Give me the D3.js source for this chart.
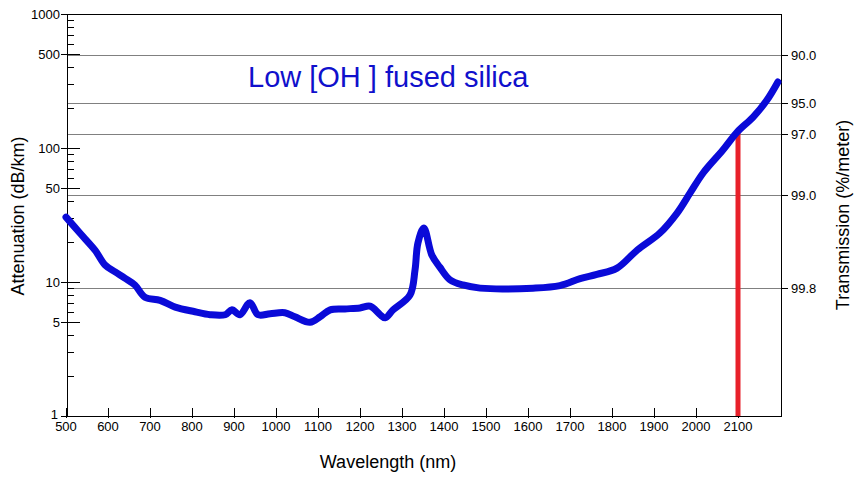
<!DOCTYPE html>
<html>
<head>
<meta charset="utf-8">
<script src="https://cdn.jsdelivr.net/npm/d3@7"></script>
<style>
  body { margin: 0; background: #fff; }
  svg { display: block; font-family: Arial, "Liberation Sans", sans-serif; }
</style>
</head>
<body>
<svg id="chart" width="866" height="481"></svg>
<script>
// wavelength (nm) and attenuation (dB/km)
var wavelengths = [500, 533, 569, 593, 617, 640, 664, 688, 724, 760, 807, 843, 879, 895, 914, 938, 957, 986,
    1021, 1045, 1081, 1105, 1129, 1164, 1200, 1224, 1248, 1260, 1279, 1319, 1331, 1338, 1352, 1371, 1390,
    1414, 1445, 1486, 1612, 1676, 1724, 1764, 1812, 1860, 1914, 1955, 1986, 2017, 2064, 2098, 2136, 2169, 2195];
var attenuation = [30.5, 23.2, 17.3, 13.4, 11.9, 10.7, 9.5, 7.7, 7.3, 6.5, 6.0, 5.7, 5.7, 6.2, 5.7, 7.0, 5.7, 5.8,
    5.9, 5.5, 5.0, 5.5, 6.2, 6.3, 6.4, 6.6, 5.7, 5.4, 6.2, 8.0, 12.3, 19.6, 25.3, 15.9, 12.9,
    10.4, 9.5, 9.0, 9.0, 9.4, 10.6, 11.4, 12.7, 17.3, 23.2, 32.7, 46.2, 65.1, 96.6, 131.6, 170, 228, 311];

// axis ticks
var xTicks = [500, 600, 700, 800, 900, 1000, 1100, 1200, 1300, 1400, 1500, 1600, 1700, 1800, 1900, 2000, 2100];
var yLabelTicks = [1, 5, 10, 50, 100, 500, 1000];
var transLabels = ["90.0", "95.0", "97.0", "99.0", "99.8"];
var transAtten = [494, 217, 127, 44.6, 9.0];   // where each transmission line sits on the dB/km scale

// red marker
var markerWl = [2100];
var markerAtt = [133];

function draw_chart(svg_name) {
    let svg = d3.select(svg_name);

    let pLeft = 67, pRight = 781, pTop = 14, pBottom = 416;

    let x = d3.scaleLinear().domain([500, 2200]).range([66, 780]);
    let y = d3.scaleLog().domain([1, 1000]).range([pBottom, pTop]);
    let ry = function (d) { return Math.round(y(d)) + 0.5; };

    // transmission grid lines + right labels
    transAtten.forEach(function (a, i) {
        svg.append("line")
            .attr("x1", pLeft).attr("x2", pRight)
            .attr("y1", ry(a)).attr("y2", ry(a))
            .attr("stroke", "#808080").attr("stroke-width", 1);
        svg.append("line")
            .attr("x1", pRight).attr("x2", pRight + 7)
            .attr("y1", ry(a)).attr("y2", ry(a))
            .attr("stroke", "#000");
        svg.append("text")
            .text(transLabels[i])
            .attr("x", pRight + 10)
            .attr("y", y(a) + 5)
            .style("font-size", "13px");
    });

    // frame
    svg.append("rect")
        .attr("x", pLeft + 0.5).attr("y", pTop + 0.5)
        .attr("width", pRight - pLeft).attr("height", pBottom - pTop)
        .attr("fill", "none").attr("stroke", "#000").attr("stroke-width", 1);

    // left axis: minor ticks
    let minor = [];
    [1, 10, 100].forEach(function (d) {
        for (let k = 2; k <= 9; k++) minor.push(d * k);
    });
    svg.selectAll(".minor")
        .data(minor.filter(function (d) { return yLabelTicks.indexOf(d) < 0; }))
        .enter().append("line")
        .attr("x1", pLeft).attr("x2", pLeft + 7)
        .attr("y1", ry).attr("y2", ry)
        .attr("stroke", "#000");

    // left axis: major ticks + labels
    svg.selectAll(".major")
        .data(yLabelTicks)
        .enter().append("line")
        .attr("x1", pLeft - 6)
        .attr("x2", function (d) { return (d == 1 || d == 1000) ? pLeft : pLeft + 13; })
        .attr("y1", ry).attr("y2", ry)
        .attr("stroke", "#000");
    svg.selectAll(".ylab")
        .data(yLabelTicks)
        .enter().append("text")
        .text(function (d) { return d; })
        .attr("x", function (d) { return d == 1 ? pLeft - 9 : pLeft - 7; })
        .attr("y", function (d) { return d == 1 ? y(d) + 3 : y(d) + 5; })
        .attr("text-anchor", "end")
        .style("font-size", "13px");

    // bottom axis
    svg.selectAll(".xtick")
        .data(xTicks)
        .enter().append("line")
        .attr("x1", function (d) { return Math.round(x(d)) + 0.5; })
        .attr("x2", function (d) { return Math.round(x(d)) + 0.5; })
        .attr("y1", pBottom - 8).attr("y2", pBottom + 2)
        .attr("stroke", "#000");
    svg.selectAll(".xlab")
        .data(xTicks)
        .enter().append("text")
        .text(function (d) { return d; })
        .attr("x", function (d) { return x(d); })
        .attr("y", pBottom + 15)
        .attr("text-anchor", "middle")
        .style("font-size", "13px");

    // red marker line
    svg.selectAll(".marker")
        .data(markerWl)
        .enter().append("line")
        .attr("x1", function (d) { return x(d); })
        .attr("x2", function (d) { return x(d); })
        .attr("y1", pBottom)
        .attr("y2", function (d, i) { return y(markerAtt[i]); })
        .attr("stroke", "#e8202a").attr("stroke-width", 5);

    // attenuation curve
    let pts = wavelengths.map(function (w, i) { return [w, attenuation[i]]; });
    let line = d3.line()
        .x(function (d) { return x(d[0]); })
        .y(function (d) { return y(d[1]); })
        .curve(d3.curveCatmullRom.alpha(0.5));
    svg.append("path")
        .datum(pts)
        .attr("d", line)
        .attr("fill", "none")
        .attr("stroke", "#0a0ad8")
        .attr("stroke-width", 7)
        .attr("stroke-linejoin", "round")
        .attr("stroke-linecap", "round");

    // title
    svg.append("text")
        .text("Low [OH ] fused silica")
        .attr("x", 248).attr("y", 87)
        .attr("fill", "#1010cc")
        .style("font-size", "29px");

    // axis titles
    svg.append("text")
        .text("Wavelength (nm)")
        .attr("x", 388).attr("y", 468)
        .attr("text-anchor", "middle")
        .style("font-size", "18px");
    svg.append("text")
        .text("Attenuation (dB/km)")
        .attr("transform", "translate(24,216) rotate(-90)")
        .attr("text-anchor", "middle")
        .style("font-size", "18px");
    svg.append("text")
        .text("Transmission (%/meter)")
        .attr("transform", "translate(849,215) rotate(-90)")
        .attr("text-anchor", "middle")
        .style("font-size", "18px");
}

draw_chart("#chart");
</script>
</body>
</html>
